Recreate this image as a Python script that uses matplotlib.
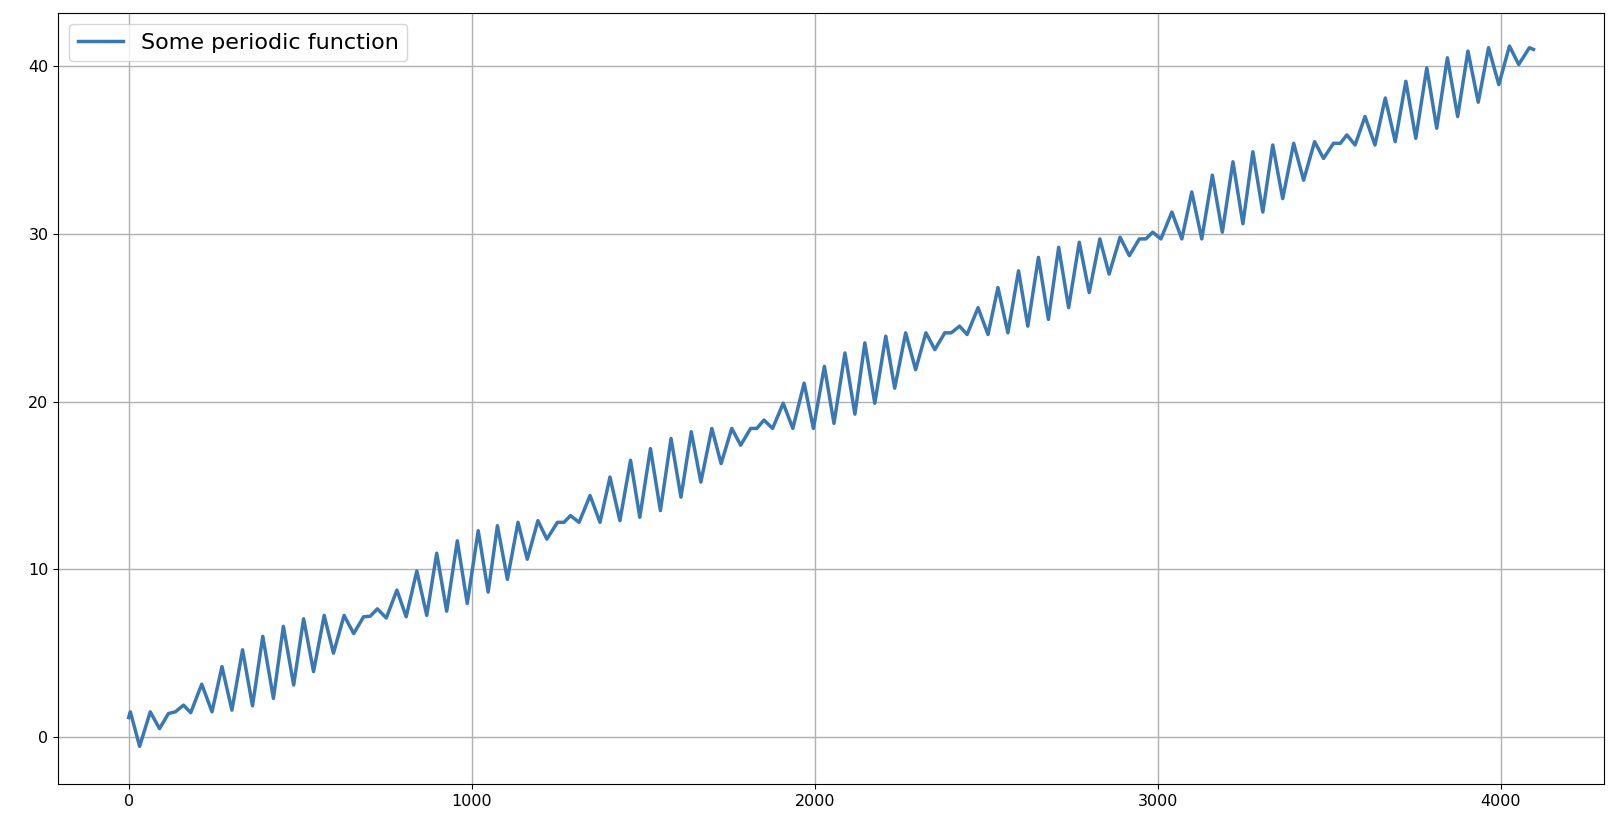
import matplotlib
matplotlib.use("Agg")
import matplotlib.pyplot as plt

x_vals = [0, 5, 32, 63, 90, 116, 136, 160, 181, 213, 243, 272, 301, 332, 361, 391, 422, 451, 481,
          510, 539, 570, 597, 628, 656, 685, 704, 725, 751, 782, 809, 840, 869, 898, 927, 958, 987,
          1019, 1048, 1075, 1104, 1135, 1162, 1193, 1219, 1250, 1269, 1288, 1313, 1345, 1374, 1403,
          1432, 1463, 1490, 1521, 1550, 1581, 1610, 1640, 1668, 1700, 1727, 1758, 1784, 1813, 1831,
          1852, 1877, 1908, 1936, 1969, 1996, 2028, 2056, 2088, 2117, 2146, 2175, 2207, 2233, 2265,
          2294, 2324, 2350, 2379, 2398, 2422, 2444, 2476, 2505, 2534, 2563, 2594, 2621, 2652, 2681,
          2711, 2740, 2771, 2800, 2831, 2858, 2890, 2917, 2946, 2965, 2985, 3009, 3041, 3070, 3099,
          3128, 3159, 3188, 3219, 3248, 3277, 3306, 3335, 3364, 3396, 3425, 3457, 3483, 3512, 3532,
          3551, 3575, 3604, 3633, 3663, 3692, 3723, 3752, 3784, 3813, 3844, 3874, 3904, 3934, 3964,
          3994, 4025, 4052, 4083, 4095]
y_vals = [1.16, 1.5, -0.56, 1.5, 0.5, 1.4, 1.5, 1.9, 1.45, 3.15, 1.5, 4.2, 1.6, 5.2, 1.86, 6.0, 2.3,
          6.6, 3.1, 7.05, 3.9, 7.25, 5.0, 7.25, 6.17, 7.17, 7.2, 7.64, 7.1, 8.76, 7.17, 9.9, 7.25,
          10.96, 7.5, 11.7, 7.96, 12.3, 8.64, 12.6, 9.4, 12.8, 10.6, 12.9, 11.8, 12.8, 12.8, 13.2,
          12.8, 14.4, 12.8, 15.5, 12.9, 16.5, 13.1, 17.2, 13.5, 17.8, 14.3, 18.2, 15.2, 18.4, 16.3,
          18.4, 17.4, 18.4, 18.4, 18.9, 18.4, 19.9, 18.4, 21.1, 18.4, 22.1, 18.7, 22.9, 19.25, 23.5,
          19.9, 23.9, 20.8, 24.1, 21.9, 24.1, 23.1, 24.1, 24.1, 24.5, 24.0, 25.6, 24.0, 26.8, 24.1,
          27.8, 24.5, 28.6, 24.9, 29.2, 25.6, 29.5, 26.5, 29.7, 27.6, 29.8, 28.7, 29.7, 29.7, 30.1,
          29.7, 31.3, 29.7, 32.5, 29.7, 33.5, 30.1, 34.3, 30.6, 34.9, 31.3, 35.3, 32.1, 35.4, 33.2,
          35.5, 34.5, 35.4, 35.4, 35.9, 35.3, 37.0, 35.3, 38.1, 35.5, 39.1, 35.7, 39.9, 36.3, 40.5,
          37.0, 40.9, 37.85, 41.1, 38.9, 41.2, 40.1, 41.1, 41.0]

fig, ax = plt.subplots(figsize=(16.2, 8.34), dpi=100)
ax.plot(x_vals, y_vals, color="#3a78b4", lw=2.5, solid_joinstyle="round",
        label="Some periodic function")
ax.set_xlim(-205, 4300)
ax.set_ylim(-2.8, 43.2)
ax.set_xticks([0, 1000, 2000, 3000, 4000])
ax.set_yticks([0, 10, 20, 30, 40])
ax.tick_params(labelsize=11.5)
ax.grid(True, color="#b0b0b0", lw=1)
ax.legend(loc="upper left", fontsize=16)
fig.subplots_adjust(left=0.036, right=0.99, top=0.985, bottom=0.06)
fig.savefig("out.png")
